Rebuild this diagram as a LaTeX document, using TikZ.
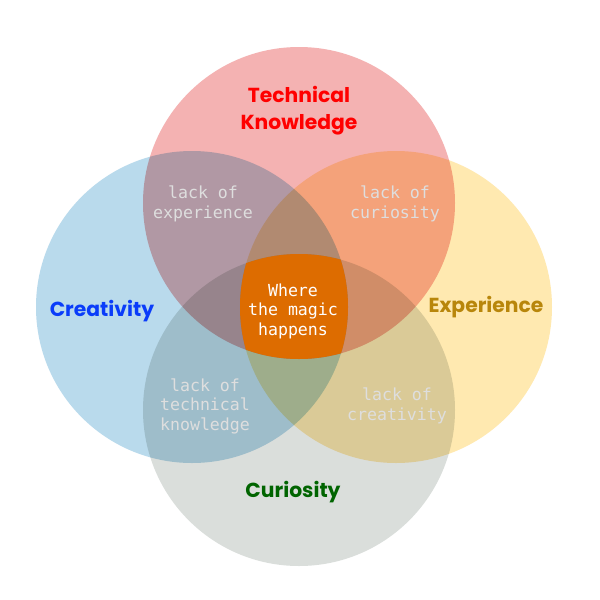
\documentclass[tikz,border=0pt]{standalone}
\usepackage{fontspec}
\newfontfamily\headfont{Poppins}
\newfontfamily\lackfont{DejaVu Sans Mono}
\usepackage{tikz}
\usetikzlibrary{positioning}
\usepackage{xcolor}
\definecolor{techfill}{RGB}{244,178,178}
\definecolor{creafill}{RGB}{185,218,236}
\definecolor{expefill}{RGB}{255,233,176}
\definecolor{curifill}{RGB}{218,222,219}
\definecolor{magicfill}{RGB}{221,108,0}
\definecolor{techtext}{RGB}{255,0,0}
\definecolor{creatext}{RGB}{10,60,250}
\definecolor{expetext}{RGB}{184,134,11}
\definecolor{curitext}{RGB}{0,100,0}
\definecolor{lackgray}{RGB}{222,222,222}

\begin{document}
\begin{tikzpicture}[
    x=1pt, y=-1pt,
    ring/.style={circle, minimum size=312pt, inner sep=0pt},
    title/.style={font=\headfont\bfseries\fontsize{20.3}{27}\selectfont, align=center},
    gap/.style={font=\lackfont\fontsize{16.6}{19.5}\selectfont, text=lackgray, align=center},
]
    % Canvas
    \fill[white] (0,0) rectangle (600,600);
    \useasboundingbox (0,0) rectangle (600,600);

    % Circles
    \begin{scope}[blend group=multiply]
        \node[ring, fill=techfill] (tech) at (299,203) {};
        \node[ring, fill=creafill] (crea) at (192,307) {};
        \node[ring, fill=expefill] (expe) at (396,307) {};
        \node[ring, fill=curifill] (curi) at (299,410) {};
    \end{scope}

    % Centre overlap
    \begin{scope}
        \clip (tech.center) circle (156);
        \clip (crea.center) circle (156);
        \clip (expe.center) circle (156);
        \fill[magicfill] (curi.center) circle (156);
    \end{scope}

    % Circle labels
    \node[title, text=techtext] (techlbl) at (299,111) {Technical\\Knowledge};
    \node[title, text=creatext] (crealbl) at (102,311) {Creativity};
    \node[title, text=expetext] (expelbl) at (486,307) {Experience};
    \node[title, text=curitext] (curilbl) at (293,492) {Curiosity};

    % Overlap labels
    \node[gap] (noexpe) at (203,204) {lack of\\experience};
    \node[gap] (nocuri) at (395,204) {lack of\\curiosity};
    \node[gap] (notech) at (205,406) {lack of\\technical\\knowledge};
    \node[gap] (nocrea) at (397,406) {lack of\\creativity};
    \node[gap, text=white] (magic) at (293,311) {Where\\the magic\\happens};
\end{tikzpicture}
\end{document}
